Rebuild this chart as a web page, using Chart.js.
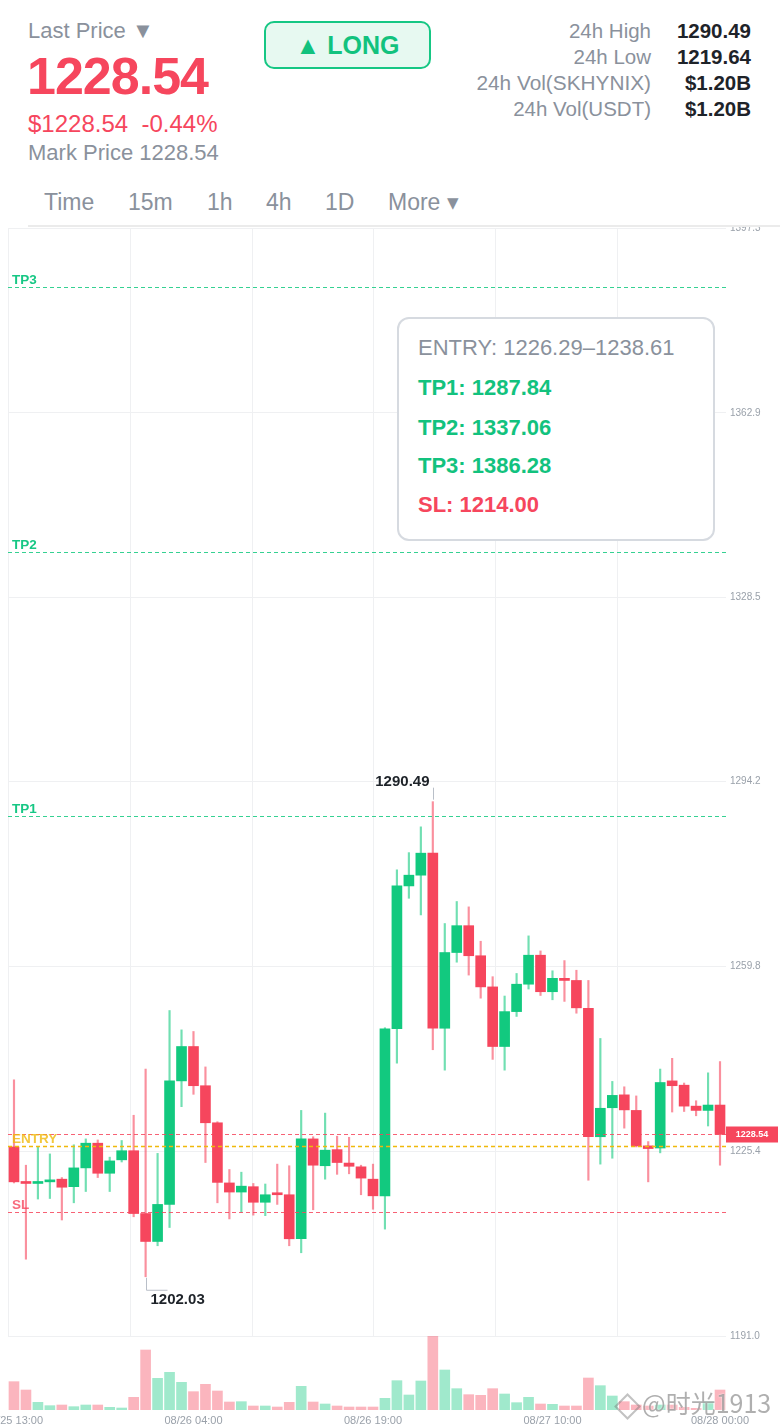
<!DOCTYPE html>
<html>
<head>
<meta charset="utf-8">
<script src="https://cdn.jsdelivr.net/npm/chart.js@4.4.1/dist/chart.umd.min.js"></script>
<style>
  html, body { margin: 0; padding: 0; background: #fff; }
  body { width: 780px; height: 1428px; position: relative; overflow: hidden; font-family: "Liberation Sans", Arial, sans-serif; }
  .t { position: absolute; white-space: nowrap; }
  #header { position: absolute; left: 0; top: 0; width: 780px; height: 225px; background: #fff; z-index: 2; }
  #tabline { position: absolute; left: 28px; top: 225px; width: 752px; height: 2px; background: #ebebeb; z-index: 2; }
  canvas { position: absolute; left: 0; z-index: 1; }
  #price { top: 218px; }
  #vol { top: 1336px; }
  .gray { color: #8a919c; }
  .red { color: #f6465d; }
  .stat { font-size: 20.5px; line-height: 20.5px; text-align: right; }
  .lbl { right: 129px; color: #8a919c; }
  .val { right: 29px; color: #1e2329; font-weight: bold; }
  .tab { font-size: 23px; line-height: 23px; top: 191px; color: #8a919c; }
  #long { left: 264px; top: 21px; width: 167px; height: 48px; box-sizing: border-box; border: 2px solid #16c784;
          border-radius: 10px; background: #e7f9f1; color: #12c27e; font-weight: bold; font-size: 25px;
          line-height: 44px; text-align: center; }
  #box { position: absolute; left: 397px; top: 317px; width: 318px; height: 224px; box-sizing: border-box;
         border: 2px solid #d6dae0; border-radius: 12px; background: #fff; z-index: 3; }
  .bl { position: absolute; left: 19px; font-size: 22px; line-height: 22px; white-space: nowrap; }
  .green { color: #12c27e; font-weight: bold; }
  #wm { position: absolute; left: 642px; top: 1388px; font-family: "Noto Sans CJK SC", sans-serif; font-size: 25px;
        line-height: 28px; color: rgba(110,110,110,0.55); text-shadow: 0 0 2px #fff; z-index: 4; white-space: nowrap; }
  #wmlogo { position: absolute; left: 618px; top: 1397px; width: 15px; height: 15px; border: 2px solid rgba(120,120,120,0.45);
            transform: rotate(45deg); z-index: 4; }
</style>
</head>
<body>
<div id="header">
  <div class="t gray" style="left:28px; top:20px; font-size:22px; line-height:22px;">Last Price ▼</div>
  <div class="t red" style="left:27px; top:50px; font-size:52px; line-height:52px; font-weight:bold; letter-spacing:-1px;">1228.54</div>
  <div class="t red" style="left:28px; top:112px; font-size:24px; line-height:24px;">$1228.54&nbsp;&nbsp;-0.44%</div>
  <div class="t gray" style="left:28px; top:142px; font-size:22px; line-height:22px;">Mark Price 1228.54</div>
  <div id="long" class="t">▲ LONG</div>

  <div class="t stat lbl" style="top:21px;">24h High</div>
  <div class="t stat val" style="top:21px;">1290.49</div>
  <div class="t stat lbl" style="top:47px;">24h Low</div>
  <div class="t stat val" style="top:47px;">1219.64</div>
  <div class="t stat lbl" style="top:73px; font-size:20.8px;">24h Vol(SKHYNIX)</div>
  <div class="t stat val" style="top:73px;">$1.20B</div>
  <div class="t stat lbl" style="top:99px;">24h Vol(USDT)</div>
  <div class="t stat val" style="top:99px;">$1.20B</div>

  <div class="t tab" style="left:44px;">Time</div>
  <div class="t tab" style="left:128px;">15m</div>
  <div class="t tab" style="left:207px;">1h</div>
  <div class="t tab" style="left:266px;">4h</div>
  <div class="t tab" style="left:325px;">1D</div>
  <div class="t tab" style="left:388px;">More ▾</div>
</div>
<div id="tabline"></div>

<canvas id="price" width="780" height="1128"></canvas>
<canvas id="vol" width="780" height="92"></canvas>

<div id="box">
  <div class="bl gray" style="top:18px;">ENTRY: 1226.29–1238.61</div>
  <div class="bl green" style="top:58px;">TP1: 1287.84</div>
  <div class="bl green" style="top:98px;">TP2: 1337.06</div>
  <div class="bl green" style="top:136px;">TP3: 1386.28</div>
  <div class="bl red" style="top:175px; font-weight:bold;">SL: 1214.00</div>
</div>

<div id="wmlogo"></div>
<div id="wm">@时光1913</div>

<script>
// hourly candles, 08/25 13:00 -> 08/28 00:00
const opens  = [1226.2, 1219.6, 1219.4, 1219.7, 1220.2, 1218.8, 1222.3, 1226.9, 1221.3, 1223.8,
                1225.5, 1213.8, 1208.6, 1215.5, 1238.5, 1244.9, 1237.6, 1230.7, 1219.5, 1217.8,
                1218.8, 1215.9, 1217.5, 1217.3, 1209.1, 1227.7, 1222.7, 1225.7, 1223.2, 1222.5,
                1220.2, 1217.1, 1248.2, 1274.8, 1276.8, 1280.9, 1248.3, 1262.4, 1267.4, 1261.8,
                1256.0, 1244.9, 1251.4, 1256.5, 1261.9, 1255.1, 1257.6, 1257.2, 1252.0, 1228.1,
                1233.5, 1235.9, 1233.0, 1226.4, 1226.0, 1238.5, 1237.7, 1233.8, 1233.0, 1234.0];
const highs  = [1238.7, 1222.8, 1226.2, 1224.9, 1220.5, 1226.6, 1227.7, 1227.5, 1224.3, 1227.4,
                1232.1, 1240.7, 1225.0, 1251.6, 1248.0, 1247.7, 1241.1, 1230.9, 1222.0, 1221.5,
                1219.4, 1219.3, 1223.0, 1222.7, 1233.0, 1228.1, 1232.5, 1228.2, 1228.0, 1222.8,
                1223.0, 1248.4, 1277.8, 1281.0, 1285.8, 1290.49, 1267.8, 1271.9, 1270.9, 1264.5,
                1257.9, 1254.3, 1258.5, 1265.5, 1262.7, 1259.0, 1260.9, 1259.1, 1257.2, 1246.4,
                1238.4, 1237.4, 1235.7, 1227.2, 1240.7, 1242.7, 1238.1, 1234.8, 1240.0, 1242.1];
const lows   = [1219.5, 1205.3, 1216.5, 1216.6, 1212.6, 1215.8, 1217.9, 1220.5, 1217.9, 1223.4,
                1213.2, 1202.03, 1207.8, 1211.2, 1233.7, 1236.0, 1223.3, 1215.8, 1212.8, 1214.0,
                1213.5, 1213.4, 1215.5, 1207.8, 1206.5, 1214.5, 1220.2, 1221.1, 1221.2, 1217.3,
                1214.6, 1210.9, 1241.8, 1272.5, 1269.4, 1244.3, 1240.5, 1260.6, 1258.2, 1253.9,
                1242.5, 1240.5, 1250.5, 1255.6, 1254.4, 1253.6, 1253.3, 1251.1, 1220.0, 1223.0,
                1224.1, 1229.7, 1226.2, 1219.7, 1225.1, 1232.7, 1232.8, 1232.0, 1230.1, 1222.8];
const closes = [1219.7, 1219.4, 1219.6, 1220.0, 1218.7, 1222.3, 1226.9, 1221.3, 1223.6, 1225.5,
                1213.8, 1208.6, 1215.5, 1238.5, 1244.9, 1237.6, 1230.7, 1219.6, 1217.8, 1218.9,
                1215.9, 1217.3, 1217.3, 1209.1, 1227.7, 1222.8, 1225.6, 1223.3, 1222.6, 1220.4,
                1217.1, 1248.2, 1274.8, 1276.8, 1280.9, 1248.3, 1262.4, 1267.4, 1261.8, 1256.0,
                1244.9, 1251.4, 1256.5, 1261.9, 1255.1, 1257.6, 1257.2, 1252.1, 1228.1, 1233.4,
                1235.8, 1233.1, 1226.4, 1225.9, 1238.2, 1237.6, 1233.8, 1233.0, 1234.0, 1228.54];
const volumes = [85, 60, 23, 13, 15, 10, 15, 15, 8, 6,
                 38, 180, 95, 113, 83, 55, 77, 57, 24, 25,
                 12, 12, 9, 23, 71, 24, 18, 12, 9, 9,
                 9, 35, 88, 45, 87, 222, 120, 64, 46, 44,
                 64, 48, 22, 38, 18, 17, 12, 12, 96, 73,
                 42, 25, 15, 12, 15, 15, 8, 5, 25, 60];

const yTicks = [1191.0, 1225.4, 1259.8, 1294.2, 1328.5, 1362.9, 1397.3];
const xTickIndex = [0, 15, 30, 45, 59];
const xTickLabels = ['08/25 13:00', '08/26 04:00', '08/26 19:00', '08/27 10:00', '08/28 00:00'];
// background vertical grid: 6 columns, last one runs past the right edge
const gridCols = [0, 1, 2, 3, 4, 5];
const gridSpan = 5.895;

const levelNames  = ['TP3', 'TP2', 'TP1', 'ENTRY', 'SL'];
const levelValues = [1386.28, 1337.06, 1287.84, 1226.29, 1214.00];
const lastPrice = 1228.54;

const GREEN = '#12c97f';
const RED = '#f6465d';
const levelLineColors = ['rgba(18,201,127,0.85)', 'rgba(18,201,127,0.85)', 'rgba(18,201,127,0.85)', '#f0b90b', 'rgba(246,70,93,0.85)'];
const levelTextColors = ['#16c784', '#16c784', '#16c784', 'rgba(240,185,11,0.8)', 'rgba(246,70,93,0.8)'];

// category labels: one per hour
const timeLabels = [];
const t0 = new Date(2025, 7, 25, 13, 0);
for (let i = 0; i < opens.length; i++) {
    const d = new Date(t0.getTime() + i * 3600000);
    const p = n => String(n).padStart(2, '0');
    timeLabels.push(p(d.getMonth() + 1) + '/' + p(d.getDate()) + ' ' + p(d.getHours()) + ':00');
}

const isUp = opens.map((o, i) => closes[i] >= o);
const bodyColors = isUp.map(u => u ? GREEN : RED);
const wickColors = isUp.map(u => u ? 'rgba(18,201,127,0.6)' : 'rgba(246,70,93,0.6)');
const volColors = isUp.map(u => u ? 'rgba(18,201,127,0.4)' : 'rgba(246,70,93,0.4)');

Chart.defaults.font.family = "'Liberation Sans', Arial, sans-serif";

const gridColor = '#eff0f2';

// vertical background grid
const colGridPlugin = {
    id: 'colGrid',
    beforeDatasetsDraw(chart) {
        const ctx = chart.ctx;
        const a = chart.chartArea;
        ctx.save();
        ctx.strokeStyle = gridColor;
        ctx.lineWidth = 1;
        gridCols.forEach(c => {
            const px = Math.round(a.left + c * a.width / gridSpan) + 0.5;
            ctx.beginPath(); ctx.moveTo(px, a.top); ctx.lineTo(px, a.bottom); ctx.stroke();
        });
        ctx.restore();
    }
};

// dashed level lines, price badge and high/low marks
const levelPlugin = {
    id: 'levels',
    afterDatasetsDraw(chart) {
        const ctx = chart.ctx;
        const a = chart.chartArea;
        const x = chart.scales.x;
        const y = chart.scales.y;
        ctx.save();

        // last price line
        const lp = Math.round(y.getPixelForValue(lastPrice)) + 0.5;
        ctx.strokeStyle = 'rgba(246,70,93,0.85)';
        ctx.lineWidth = 1.2;
        ctx.setLineDash([4, 3]);
        ctx.beginPath(); ctx.moveTo(a.left, lp); ctx.lineTo(a.right, lp); ctx.stroke();

        levelValues.forEach((v, i) => {
            const py = Math.round(y.getPixelForValue(v)) + 0.5;
            ctx.strokeStyle = levelLineColors[i];
            ctx.lineWidth = levelNames[i] === 'ENTRY' ? 1.5 : 1.2;
            ctx.setLineDash([4, 3]);
            ctx.beginPath(); ctx.moveTo(a.left, py); ctx.lineTo(a.right, py); ctx.stroke();
            ctx.setLineDash([]);
            ctx.fillStyle = levelTextColors[i];
            ctx.font = "bold 13.5px 'Liberation Sans', Arial, sans-serif";
            ctx.textAlign = 'left';
            ctx.textBaseline = 'alphabetic';
            ctx.fillText(levelNames[i], a.left + 4, py - 4);
        });

        // price badge
        ctx.setLineDash([]);
        ctx.fillStyle = RED;
        ctx.fillRect(a.right, lp - 8, 52, 16);
        ctx.fillStyle = '#fff';
        ctx.font = "bold 9px 'Liberation Sans', Arial, sans-serif";
        ctx.textAlign = 'center';
        ctx.textBaseline = 'middle';
        ctx.fillText(lastPrice.toFixed(2), a.right + 26, lp + 0.5);

        // high / low marks
        const hi = highs.indexOf(Math.max(...highs));
        const lo = lows.indexOf(Math.min(...lows));
        ctx.strokeStyle = '#b9bfc8';
        ctx.lineWidth = 1;
        ctx.fillStyle = '#1e2329';
        ctx.font = "bold 15px 'Liberation Sans', Arial, sans-serif";
        ctx.textBaseline = 'alphabetic';

        const hx = Math.round(x.getPixelForValue(hi)) + 0.5;
        const hy = y.getPixelForValue(highs[hi]);
        ctx.beginPath(); ctx.moveTo(hx, hy - 2); ctx.lineTo(hx, hy - 14); ctx.stroke();
        ctx.textAlign = 'right';
        ctx.fillText(highs[hi].toFixed(2), hx - 4, hy - 16);

        const lx = Math.round(x.getPixelForValue(lo)) + 0.5;
        const ly = y.getPixelForValue(lows[lo]);
        ctx.beginPath(); ctx.moveTo(lx, ly + 1); ctx.lineTo(lx, ly + 13.5); ctx.lineTo(lx + 21, ly + 13.5); ctx.stroke();
        ctx.textAlign = 'left';
        ctx.fillText(lows[lo].toFixed(2), lx + 4, ly + 27);

        ctx.restore();
    }
};

// time labels under the volume bars, centred on their candles
const timeAxisPlugin = {
    id: 'timeAxis',
    afterDraw(chart) {
        const ctx = chart.ctx;
        const x = chart.scales.x;
        const a = chart.chartArea;
        ctx.save();
        ctx.fillStyle = '#9aa1aa';
        ctx.font = "11px 'Liberation Sans', Arial, sans-serif";
        ctx.textAlign = 'center';
        ctx.textBaseline = 'middle';
        xTickIndex.forEach((idx, k) => {
            ctx.fillText(xTickLabels[k], x.getPixelForValue(idx), a.bottom + 11);
        });
        ctx.restore();
    }
};

new Chart(document.getElementById('price'), {
    type: 'bar',
    data: {
        labels: timeLabels,
        datasets: [
            {
                label: 'body',
                data: opens.map((o, i) => [o, closes[i]]),
                backgroundColor: bodyColors,
                barThickness: 10,
                minBarLength: 2,
                grouped: false
            },
            {
                label: 'wick',
                data: lows.map((l, i) => [l, highs[i]]),
                backgroundColor: wickColors,
                barThickness: 1.5,
                grouped: false
            }
        ]
    },
    options: {
        responsive: false,
        animation: false,
        events: [],
        layout: { padding: { left: 8, right: 0, top: 10, bottom: 10 }, autoPadding: false },
        plugins: { legend: { display: false }, tooltip: { enabled: false } },
        scales: {
            x: { display: false, offset: true },
            y: {
                position: 'right',
                min: 1191.0,
                max: 1397.3,
                afterBuildTicks: s => { s.ticks = yTicks.map(v => ({ value: v })); },
                afterFit: s => { s.width = 54; },
                ticks: { color: '#9aa1aa', font: { size: 10 }, padding: 4, callback: v => Number(v).toFixed(1) },
                grid: { color: gridColor, drawTicks: false },
                border: { display: false }
            }
        }
    },
    plugins: [colGridPlugin, levelPlugin]
});

new Chart(document.getElementById('vol'), {
    type: 'bar',
    data: {
        labels: timeLabels,
        datasets: [{ data: volumes, backgroundColor: volColors, barThickness: 10 }]
    },
    options: {
        responsive: false,
        animation: false,
        events: [],
        layout: { padding: { left: 8, right: 54, top: 0, bottom: 18 }, autoPadding: false },
        plugins: { legend: { display: false }, tooltip: { enabled: false } },
        scales: {
            x: { display: false, offset: true },
            y: { display: false, min: 0, max: 222 }
        }
    },
    plugins: [timeAxisPlugin]
});
</script>
</body>
</html>
